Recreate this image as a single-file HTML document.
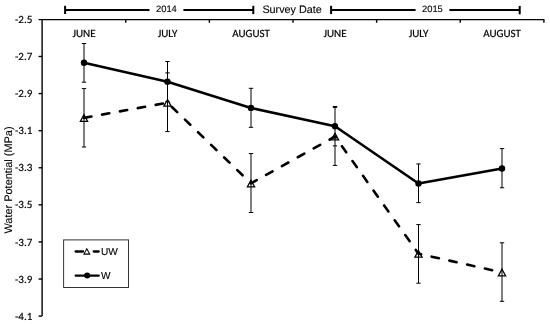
<!DOCTYPE html><html><head><meta charset="utf-8"><style>html,body{margin:0;padding:0;background:#fff;width:550px;height:324px;overflow:hidden}svg{display:block}</style></head><body>
<svg width="550" height="324" viewBox="0 0 550 324" style="text-rendering:geometricPrecision">
<g stroke="#000" stroke-width="2" fill="none">
<line x1="65" y1="9.9" x2="149.5" y2="9.9"/><line x1="183.4" y1="9.9" x2="253.3" y2="9.9"/>
<line x1="65.1" y1="5.8" x2="65.1" y2="14"/><line x1="253.3" y1="5.8" x2="253.3" y2="14.1"/>
<line x1="331" y1="9.9" x2="415.6" y2="9.9"/><line x1="449.4" y1="9.9" x2="520" y2="9.9"/>
<line x1="331.1" y1="5.8" x2="331.1" y2="14.1"/><line x1="519.7" y1="5.9" x2="519.7" y2="14.3"/>
</g>
<text transform="translate(166.4,12) scale(1,1)" font-family='"Liberation Sans",Arial,sans-serif' font-size="9.4" text-anchor="middle" fill="#000" stroke="#000" stroke-width="0.12">2014</text>
<text transform="translate(432.4,12) scale(1,1)" font-family='"Liberation Sans",Arial,sans-serif' font-size="9.4" text-anchor="middle" fill="#000" stroke="#000" stroke-width="0.12">2015</text>
<text x="292.1" y="13.1" font-family='"Liberation Sans",Arial,sans-serif' font-size="10.8" text-anchor="middle" fill="#000" stroke="#000" stroke-width="0.12">Survey Date</text>
<g stroke="#000" stroke-width="1.4" fill="none">
<line x1="38.6" y1="19.6" x2="544.3" y2="19.6"/>
<line x1="42.1" y1="19.4" x2="42.1" y2="316.1"/>
<line x1="38.6" y1="56.49" x2="42.1" y2="56.49"/>
<line x1="38.6" y1="93.58" x2="42.1" y2="93.58"/>
<line x1="38.6" y1="130.67" x2="42.1" y2="130.67"/>
<line x1="38.6" y1="167.76" x2="42.1" y2="167.76"/>
<line x1="38.6" y1="204.85" x2="42.1" y2="204.85"/>
<line x1="38.6" y1="241.94" x2="42.1" y2="241.94"/>
<line x1="38.6" y1="279.03" x2="42.1" y2="279.03"/>
<line x1="38.6" y1="316.12" x2="42.1" y2="316.12"/>
<line x1="125.73" y1="19.4" x2="125.73" y2="22.8"/>
<line x1="209.36" y1="19.4" x2="209.36" y2="22.8"/>
<line x1="292.99" y1="19.4" x2="292.99" y2="22.8"/>
<line x1="376.62" y1="19.4" x2="376.62" y2="22.8"/>
<line x1="460.25" y1="19.4" x2="460.25" y2="22.8"/>
<line x1="543.88" y1="19.4" x2="543.88" y2="22.8"/>
</g>
<text x="32.3" y="22.50" font-family='"Carlito","Liberation Sans",sans-serif' font-size="11" text-anchor="end" fill="#000" stroke="#000" stroke-width="0.2">-2.5</text>
<text x="32.3" y="59.69" font-family='"Carlito","Liberation Sans",sans-serif' font-size="11" text-anchor="end" fill="#000" stroke="#000" stroke-width="0.2">-2.7</text>
<text x="32.3" y="96.88" font-family='"Carlito","Liberation Sans",sans-serif' font-size="11" text-anchor="end" fill="#000" stroke="#000" stroke-width="0.2">-2.9</text>
<text x="32.3" y="134.07" font-family='"Carlito","Liberation Sans",sans-serif' font-size="11" text-anchor="end" fill="#000" stroke="#000" stroke-width="0.2">-3.1</text>
<text x="32.3" y="171.26" font-family='"Carlito","Liberation Sans",sans-serif' font-size="11" text-anchor="end" fill="#000" stroke="#000" stroke-width="0.2">-3.3</text>
<text x="32.3" y="208.45" font-family='"Carlito","Liberation Sans",sans-serif' font-size="11" text-anchor="end" fill="#000" stroke="#000" stroke-width="0.2">-3.5</text>
<text x="32.3" y="245.64" font-family='"Carlito","Liberation Sans",sans-serif' font-size="11" text-anchor="end" fill="#000" stroke="#000" stroke-width="0.2">-3.7</text>
<text x="32.3" y="282.83" font-family='"Carlito","Liberation Sans",sans-serif' font-size="11" text-anchor="end" fill="#000" stroke="#000" stroke-width="0.2">-3.9</text>
<text x="32.3" y="320.02" font-family='"Carlito","Liberation Sans",sans-serif' font-size="11" text-anchor="end" fill="#000" stroke="#000" stroke-width="0.2">-4.1</text>
<text x="84.0" y="36.7" font-family='"Carlito","Liberation Sans",sans-serif' font-size="11" text-anchor="middle" fill="#000" stroke="#000" stroke-width="0.2">JUNE</text>
<text x="167.5" y="36.7" font-family='"Carlito","Liberation Sans",sans-serif' font-size="11" text-anchor="middle" fill="#000" stroke="#000" stroke-width="0.2">JULY</text>
<text x="251.0" y="36.7" font-family='"Carlito","Liberation Sans",sans-serif' font-size="11" text-anchor="middle" fill="#000" stroke="#000" stroke-width="0.2">AUGUST</text>
<text x="335.0" y="36.7" font-family='"Carlito","Liberation Sans",sans-serif' font-size="11" text-anchor="middle" fill="#000" stroke="#000" stroke-width="0.2">JUNE</text>
<text x="418.5" y="36.7" font-family='"Carlito","Liberation Sans",sans-serif' font-size="11" text-anchor="middle" fill="#000" stroke="#000" stroke-width="0.2">JULY</text>
<text x="502.0" y="36.7" font-family='"Carlito","Liberation Sans",sans-serif' font-size="11" text-anchor="middle" fill="#000" stroke="#000" stroke-width="0.2">AUGUST</text>
<text x="0" y="0" transform="translate(12,180) rotate(-90)" font-family='"Liberation Sans",Arial,sans-serif' font-size="10.95" text-anchor="middle" fill="#000" stroke="#000" stroke-width="0.12">Water Potential (MPa)</text>
<polyline points="84.0,62.8 167.5,81.65 251.0,107.9 335.0,126.2 418.5,183.5 502.0,168.5" fill="none" stroke="#000" stroke-width="2.6" stroke-linecap="round" stroke-linejoin="round"/>
<polyline points="84.0,117.9 167.5,102.7 251.0,183.4 335.0,136.5 418.5,253.7 502.0,272.4" fill="none" stroke="#000" stroke-width="2.6" stroke-dasharray="7.4 10.78" stroke-dashoffset="-0.11" stroke-linecap="round" stroke-linejoin="round"/>
<path d="M84.0,114.7 L87.6,121.30000000000001 L80.4,121.30000000000001 Z" fill="none" stroke="#000" stroke-width="1.3" stroke-linejoin="miter"/>
<path d="M167.5,99.5 L171.1,106.10000000000001 L163.9,106.10000000000001 Z" fill="none" stroke="#000" stroke-width="1.3" stroke-linejoin="miter"/>
<path d="M251.0,180.20000000000002 L254.6,186.8 L247.4,186.8 Z" fill="none" stroke="#000" stroke-width="1.3" stroke-linejoin="miter"/>
<path d="M335.0,133.3 L338.6,139.9 L331.4,139.9 Z" fill="none" stroke="#000" stroke-width="1.3" stroke-linejoin="miter"/>
<path d="M418.5,250.5 L422.1,257.09999999999997 L414.9,257.09999999999997 Z" fill="none" stroke="#000" stroke-width="1.3" stroke-linejoin="miter"/>
<path d="M502.0,269.2 L505.6,275.79999999999995 L498.4,275.79999999999995 Z" fill="none" stroke="#000" stroke-width="1.3" stroke-linejoin="miter"/>
<circle cx="84.0" cy="62.8" r="3.2" fill="#000"/>
<circle cx="167.5" cy="81.65" r="3.2" fill="#000"/>
<circle cx="251.0" cy="107.9" r="3.2" fill="#000"/>
<circle cx="335.0" cy="126.2" r="3.2" fill="#000"/>
<circle cx="418.5" cy="183.5" r="3.2" fill="#000"/>
<circle cx="502.0" cy="168.5" r="3.2" fill="#000"/>
<g stroke="#000" stroke-width="1" fill="none">
<line x1="84.0" y1="43.50" x2="84.0" y2="82.20"/>
<line x1="84.0" y1="88.60" x2="84.0" y2="147.00"/>
<line x1="167.5" y1="61.50" x2="167.5" y2="131.60"/>
<line x1="251.0" y1="88.30" x2="251.0" y2="127.30"/>
<line x1="251.0" y1="153.60" x2="251.0" y2="212.50"/>
<line x1="335.0" y1="106.50" x2="335.0" y2="165.40"/>
<line x1="418.5" y1="163.95" x2="418.5" y2="202.60"/>
<line x1="418.5" y1="224.60" x2="418.5" y2="283.20"/>
<line x1="502.0" y1="148.60" x2="502.0" y2="187.75"/>
<line x1="502.0" y1="242.80" x2="502.0" y2="301.30"/>
<line x1="81.8" y1="43.50" x2="86.2" y2="43.50"/>
<line x1="81.8" y1="82.20" x2="86.2" y2="82.20"/>
<line x1="165.3" y1="61.50" x2="169.7" y2="61.50"/>
<line x1="165.3" y1="101.80" x2="169.7" y2="101.80"/>
<line x1="248.8" y1="88.30" x2="253.2" y2="88.30"/>
<line x1="248.8" y1="127.30" x2="253.2" y2="127.30"/>
<line x1="332.8" y1="106.50" x2="337.2" y2="106.50"/>
<line x1="332.8" y1="145.90" x2="337.2" y2="145.90"/>
<line x1="416.3" y1="163.95" x2="420.7" y2="163.95"/>
<line x1="416.3" y1="202.60" x2="420.7" y2="202.60"/>
<line x1="499.8" y1="148.60" x2="504.2" y2="148.60"/>
<line x1="499.8" y1="187.75" x2="504.2" y2="187.75"/>
<line x1="81.8" y1="88.60" x2="86.2" y2="88.60"/>
<line x1="81.8" y1="147.00" x2="86.2" y2="147.00"/>
<line x1="165.3" y1="72.90" x2="169.7" y2="72.90"/>
<line x1="165.3" y1="131.60" x2="169.7" y2="131.60"/>
<line x1="248.8" y1="153.60" x2="253.2" y2="153.60"/>
<line x1="248.8" y1="212.50" x2="253.2" y2="212.50"/>
<line x1="332.8" y1="107.40" x2="337.2" y2="107.40"/>
<line x1="332.8" y1="165.40" x2="337.2" y2="165.40"/>
<line x1="416.3" y1="224.60" x2="420.7" y2="224.60"/>
<line x1="416.3" y1="283.20" x2="420.7" y2="283.20"/>
<line x1="499.8" y1="242.80" x2="504.2" y2="242.80"/>
<line x1="499.8" y1="301.30" x2="504.2" y2="301.30"/>
</g>
<rect x="63.6" y="239.9" width="64.9" height="47.6" fill="#fff" stroke="#333" stroke-width="1"/>
<line x1="75.6" y1="251.5" x2="98.7" y2="251.5" stroke="#000" stroke-width="2.3" stroke-dasharray="7.4 10.78" stroke-linecap="round"/>
<path d="M86.8,248.8 L89.7,254.1 L83.9,254.1 Z" fill="none" stroke="#000" stroke-width="1.05"/>
<text transform="translate(101.0,255) scale(1,1)" font-family='"Liberation Sans",Arial,sans-serif' font-size="10.1" fill="#000" stroke="#000" stroke-width="0.12">UW</text>
<line x1="75.7" y1="275.7" x2="98.7" y2="275.7" stroke="#000" stroke-width="2.3" stroke-linecap="round"/>
<circle cx="87.2" cy="275.55" r="3.0" fill="#000"/>
<text transform="translate(101.0,278.9) scale(1,1)" font-family='"Liberation Sans",Arial,sans-serif' font-size="10.1" fill="#000" stroke="#000" stroke-width="0.12">W</text>
</svg></body></html>
